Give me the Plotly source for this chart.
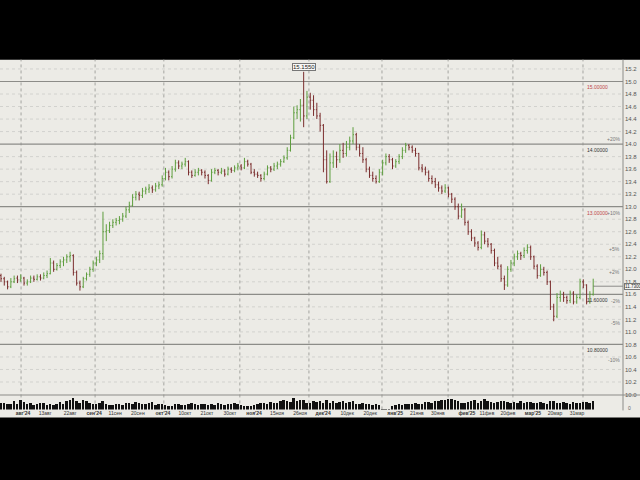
import plotly.graph_objects as go

# ---------------- data ----------------
opens = [11.90,11.85,11.80,11.72,11.80,11.86,11.83,11.86,11.78,11.80,
         11.86,11.84,11.88,11.86,11.90,11.93,12.10,12.00,12.06,12.12,
         12.15,12.20,12.22,11.95,11.78,11.72,11.85,11.92,12.00,12.10,
         12.15,12.25,12.60,12.62,12.70,12.75,12.78,12.80,12.85,12.95,
         13.02,13.15,13.20,13.18,13.25,13.28,13.30,13.27,13.33,13.35,
         13.45,13.55,13.48,13.60,13.70,13.65,13.68,13.72,13.55,13.50,
         13.55,13.58,13.55,13.50,13.42,13.55,13.58,13.55,13.57,13.52,
         13.60,13.58,13.62,13.65,13.62,13.72,13.68,13.55,13.52,13.50,
         13.45,13.52,13.62,13.60,13.65,13.68,13.72,13.78,13.90,14.10,
         14.50,14.55,14.62,14.45,14.75,14.70,14.55,14.45,14.30,13.75,
         13.40,13.70,13.80,13.75,13.90,13.85,13.95,14.05,14.15,13.95,
         13.85,13.75,13.60,13.50,13.45,13.40,13.55,13.70,13.80,13.75,
         13.65,13.72,13.80,13.90,13.98,13.95,13.90,13.85,13.62,13.60,
         13.55,13.45,13.40,13.35,13.30,13.25,13.30,13.20,13.12,13.00,
         12.85,12.95,12.75,12.60,12.50,12.42,12.35,12.55,12.45,12.40,
         12.30,12.10,12.05,11.85,11.75,12.00,12.10,12.20,12.25,12.22,
         12.30,12.35,12.20,12.05,11.90,12.00,11.95,11.80,11.40,11.25,
         11.55,11.60,11.55,11.50,11.62,11.48,11.55,11.80,11.75,11.48,
         11.60]
highs = [11.93,11.88,11.82,11.86,11.90,11.90,11.92,11.88,11.84,11.90,
         11.90,11.92,11.92,11.95,11.98,12.18,12.14,12.10,12.16,12.20,
         12.24,12.28,12.24,11.98,11.82,11.88,11.95,12.04,12.14,12.20,
         12.30,12.92,12.72,12.76,12.80,12.82,12.85,12.90,13.00,13.08,
         13.20,13.25,13.24,13.30,13.32,13.36,13.34,13.38,13.40,13.50,
         13.62,13.58,13.65,13.75,13.74,13.72,13.78,13.74,13.58,13.60,
         13.62,13.60,13.58,13.52,13.60,13.62,13.60,13.62,13.60,13.64,
         13.63,13.66,13.70,13.68,13.78,13.75,13.70,13.60,13.56,13.52,
         13.56,13.66,13.65,13.70,13.72,13.76,13.82,13.95,14.15,14.60,
         14.62,14.72,15.155,14.85,14.82,14.78,14.66,14.50,14.32,13.90,
         13.85,13.90,13.88,14.00,14.02,14.05,14.12,14.27,14.18,14.00,
         13.95,13.78,13.64,13.56,13.50,13.60,13.75,13.85,13.84,13.78,
         13.76,13.84,13.95,14.02,14.00,13.98,13.94,13.86,13.68,13.64,
         13.58,13.50,13.46,13.40,13.34,13.36,13.32,13.22,13.15,13.05,
         13.05,12.98,12.78,12.64,12.52,12.45,12.62,12.60,12.50,12.42,
         12.33,12.20,12.08,11.90,12.05,12.15,12.25,12.30,12.28,12.35,
         12.40,12.38,12.22,12.08,12.08,12.04,11.98,11.82,11.45,11.62,
         11.66,11.64,11.58,11.66,11.65,11.60,11.85,11.84,11.76,11.65,
         11.85]
lows = [11.80,11.74,11.68,11.70,11.78,11.78,11.80,11.74,11.74,11.78,
        11.80,11.82,11.82,11.84,11.86,11.92,11.96,11.98,12.02,12.05,
        12.10,12.12,11.90,11.74,11.66,11.70,11.82,11.88,11.96,12.05,
        12.10,12.15,12.45,12.58,12.66,12.70,12.72,12.76,12.82,12.90,
        13.00,13.10,13.10,13.14,13.20,13.22,13.22,13.24,13.28,13.32,
        13.42,13.42,13.45,13.56,13.60,13.60,13.64,13.50,13.46,13.48,
        13.50,13.50,13.45,13.36,13.40,13.52,13.50,13.52,13.48,13.50,
        13.54,13.55,13.58,13.58,13.60,13.64,13.52,13.48,13.46,13.40,
        13.42,13.50,13.55,13.57,13.60,13.64,13.70,13.75,13.88,14.08,
        14.40,14.36,14.27,14.40,14.55,14.45,14.40,14.20,13.55,13.37,
        13.38,13.62,13.62,13.70,13.78,13.80,13.90,14.00,13.90,13.80,
        13.70,13.55,13.46,13.40,13.37,13.38,13.50,13.66,13.70,13.60,
        13.62,13.68,13.76,13.86,13.90,13.86,13.80,13.58,13.55,13.50,
        13.40,13.36,13.30,13.24,13.20,13.22,13.15,13.06,12.95,12.80,
        12.82,12.70,12.55,12.45,12.36,12.30,12.32,12.40,12.35,12.25,
        12.05,12.00,11.80,11.67,11.72,11.96,12.05,12.15,12.15,12.18,
        12.25,12.15,12.00,11.85,11.88,11.90,11.75,11.35,11.17,11.22,
        11.48,11.48,11.45,11.46,11.44,11.45,11.52,11.70,11.44,11.45,
        11.58]
closes = [11.85,11.80,11.72,11.80,11.85,11.83,11.86,11.78,11.80,11.86,
          11.84,11.88,11.86,11.90,11.93,12.10,12.00,12.06,12.12,12.15,
          12.20,12.22,11.95,11.78,11.72,11.85,11.92,12.00,12.10,12.15,
          12.25,12.60,12.62,12.70,12.75,12.78,12.80,12.85,12.95,13.02,
          13.15,13.20,13.18,13.25,13.28,13.30,13.27,13.33,13.35,13.45,
          13.55,13.48,13.60,13.70,13.65,13.68,13.72,13.55,13.50,13.55,
          13.58,13.55,13.50,13.42,13.55,13.58,13.55,13.57,13.52,13.60,
          13.58,13.62,13.65,13.62,13.72,13.68,13.55,13.52,13.50,13.45,
          13.52,13.62,13.60,13.65,13.68,13.72,13.78,13.90,14.10,14.50,
          14.55,14.62,14.45,14.75,14.70,14.55,14.45,14.30,13.75,13.40,
          13.70,13.80,13.75,13.90,13.85,13.95,14.05,14.15,13.95,13.85,
          13.75,13.60,13.50,13.45,13.40,13.55,13.70,13.80,13.75,13.65,
          13.72,13.80,13.90,13.98,13.95,13.90,13.85,13.62,13.60,13.55,
          13.45,13.40,13.35,13.30,13.25,13.30,13.20,13.12,13.00,12.85,
          12.95,12.75,12.60,12.50,12.42,12.35,12.55,12.45,12.40,12.30,
          12.10,12.05,11.85,11.75,12.00,12.10,12.20,12.25,12.22,12.30,
          12.35,12.20,12.05,11.90,12.00,11.95,11.80,11.40,11.25,11.55,
          11.60,11.55,11.50,11.62,11.48,11.55,11.80,11.75,11.48,11.60,
          11.73]
volumes = [55,60,48,52,70,45,80,62,50,58,
           40,45,55,60,42,50,38,52,65,48,
           70,85,95,75,60,80,72,55,50,45,
           60,75,52,40,38,45,50,42,55,60,
           48,65,58,50,45,55,62,40,52,48,
           42,30,35,45,48,40,38,50,55,45,
           42,48,52,40,45,38,55,50,42,48,
           52,55,45,40,35,30,35,40,45,55,
           60,50,65,58,55,70,80,75,65,100,
           70,80,85,60,55,75,65,70,55,80,
           60,75,55,62,70,58,65,72,50,45,
           60,52,45,40,45,38,6,3,5,35,
           42,45,38,50,52,48,55,45,50,62,
           65,55,70,75,85,78,90,88,82,70,
           60,55,65,70,80,60,75,90,72,65,
           60,68,75,70,62,58,65,60,70,55,
           62,68,60,55,65,58,52,70,75,60,
           55,62,58,50,65,60,55,68,62,58,
           70]
tick_pos = [6.7,13.4,21,28.3,34.7,41.6,49.2,55.9,62.6,69.6,76.9,83.9,90.9,
            97.9,105.2,112.2,119.8,126.4,132.8,141.6,147.7,154.1,161.7,168.4,175.1]
tick_text = ["<b>авг'24</b>","13авг","22авг","<b>сен'24</b>","11сен","20сен",
             "<b>окт'24</b>","10окт","21окт","30окт","<b>ноя'24</b>","15ноя","26ноя",
             "<b>дек'24</b>","10дек","20дек","<b>янв'25</b>","21янв","30янв",
             "<b>фев'25</b>","11фев","20фев","<b>мар'25</b>","20мар","31мар"]
vgrid = [6.1,28.6,49.5,72.6,93.6,115.8,135.9,155.6,176.9]
levels = [15.0,14.0,13.0,11.6,10.8]
level_labels = ["15.00000","14.00000","13.00000","11.60000","10.80000"]
level_colors = ["#c04848","#333333","#c04848","#333333","#333333"]
price_ticks = [round(10.0 + 0.2*k, 1) for k in range(27)]
pct_levels = [20,10,5,2,-2,-5,-10]
peak_label = "15.1550"
last_label = "11.7300"

x = list(range(len(closes)))
n = len(closes)

# ---------------- layout geometry (pixels -> paper) ----------------
W, H = 640, 480
def py(p):
    return 1 - p / H
def px(p):
    return p / W

axis_x = px(623)
font = "Liberation Sans"
y_top = 10.0 + (397 - 60) / 63

fig = go.Figure()
fig.add_trace(go.Ohlc(x=x, open=opens, high=highs, low=lows, close=closes,
                      increasing=dict(line=dict(color="#5e9e3e", width=1)),
                      decreasing=dict(line=dict(color="#7a2d2d", width=1)),
                      tickwidth=0.3, xaxis="x", yaxis="y", hoverinfo="skip"))
fig.add_trace(go.Bar(x=x, y=volumes, marker=dict(color="#111111", line=dict(width=0)),
                     width=0.6, xaxis="x", yaxis="y2", hoverinfo="skip"))

shapes = []
shapes.append(dict(type="rect", xref="paper", yref="paper", x0=0, x1=1, y0=py(420), y1=py(60),
                   fillcolor="#ecebe6", line=dict(width=0), layer="below"))
for t in price_ticks:
    if t in levels or t == 10.0:
        continue
    shapes.append(dict(type="line", xref="paper", yref="y", x0=0, x1=axis_x, y0=t, y1=t,
                       line=dict(color="#d2d2ce", width=1, dash="dot"), layer="below"))
for v in vgrid:
    shapes.append(dict(type="line", xref="x", yref="paper", x0=v, x1=v, y0=py(412), y1=py(60),
                       line=dict(color="#a4a4a0", width=1, dash="dot"), layer="below"))
for lv in levels:
    shapes.append(dict(type="line", xref="paper", yref="y", x0=0, x1=axis_x, y0=lv, y1=lv,
                       line=dict(color="#8c8c88", width=1.2), layer="below"))
shapes.append(dict(type="line", xref="paper", yref="paper", x0=0, x1=1, y0=py(397.5), y1=py(397.5),
                   line=dict(color="#8c8c88", width=1.2)))
shapes.append(dict(type="line", xref="paper", yref="paper", x0=axis_x, x1=axis_x, y0=py(413), y1=py(60),
                   line=dict(color="#8c8c88", width=1)))
shapes.append(dict(type="line", xref="x", yref="y", x0=n-1, x1=n+8.8, y0=closes[-1], y1=closes[-1],
                   line=dict(color="#8c8c88", width=1)))

ann = []
for lv, lt, lc in zip(levels, level_labels, level_colors):
    ann.append(dict(x=px(597), xref="paper", y=lv, yref="y", text=lt, showarrow=False,
                    xanchor="center", yanchor="top", yshift=-1, font=dict(size=5, color=lc, family=font)))
for pc in pct_levels:
    ann.append(dict(x=px(622), xref="paper", y=closes[-1]*(1+pc/100), yref="y",
                    text=("+" if pc > 0 else "") + str(pc) + "%", showarrow=False,
                    xanchor="right", yanchor="middle", font=dict(size=5, color="#777", family=font)))
ann.append(dict(x=92, xref="x", y=max(highs), yref="y", text=peak_label, showarrow=False,
                xanchor="center", yanchor="bottom", yshift=1, bgcolor="#f8f8f6",
                bordercolor="#777", borderwidth=1, borderpad=0,
                font=dict(size=6, color="#222", family=font)))
ann.append(dict(x=px(623.5), xref="paper", y=closes[-1], yref="y", text=last_label, showarrow=False,
                xanchor="left", yanchor="middle", bgcolor="#f4f4f2", bordercolor="#777",
                borderwidth=1, borderpad=0, font=dict(size=4.5, color="#222", family=font)))
ann.append(dict(x=px(626), xref="paper", y=py(411), yref="paper", text="0", showarrow=False,
                xanchor="left", yanchor="middle", font=dict(size=5, color="#666", family=font)))

fig.update_layout(
    width=W, height=H, margin=dict(l=0, r=0, t=0, b=0),
    paper_bgcolor="#000000", plot_bgcolor="rgba(0,0,0,0)",
    showlegend=False, shapes=shapes, annotations=ann, bargap=0,
    xaxis=dict(domain=[0, axis_x], range=[-0.3, 189.06], anchor="y2",
               tickvals=tick_pos, ticktext=tick_text, ticks="", showgrid=False,
               zeroline=False, showline=False,
               tickfont=dict(size=5, color="#333", family=font),
               rangeslider=dict(visible=False)),
    yaxis=dict(domain=[py(397), py(60)], range=[10.0, y_top], side="right",
               anchor="x", tickvals=price_ticks, ticktext=["%.1f" % t for t in price_ticks],
               ticks="", ticklabelstandoff=1, showgrid=False,
               zeroline=False, showline=False,
               tickfont=dict(size=6, color="#555", family=font)),
    yaxis2=dict(domain=[py(412), py(398)], range=[0, 115], anchor="x",
                showticklabels=False, showgrid=False, zeroline=False, ticks=""),
)

fig.write_html("out.html", config={"displayModeBar": False},
               post_script="document.body.style.margin='0';document.body.style.overflow='hidden';")
